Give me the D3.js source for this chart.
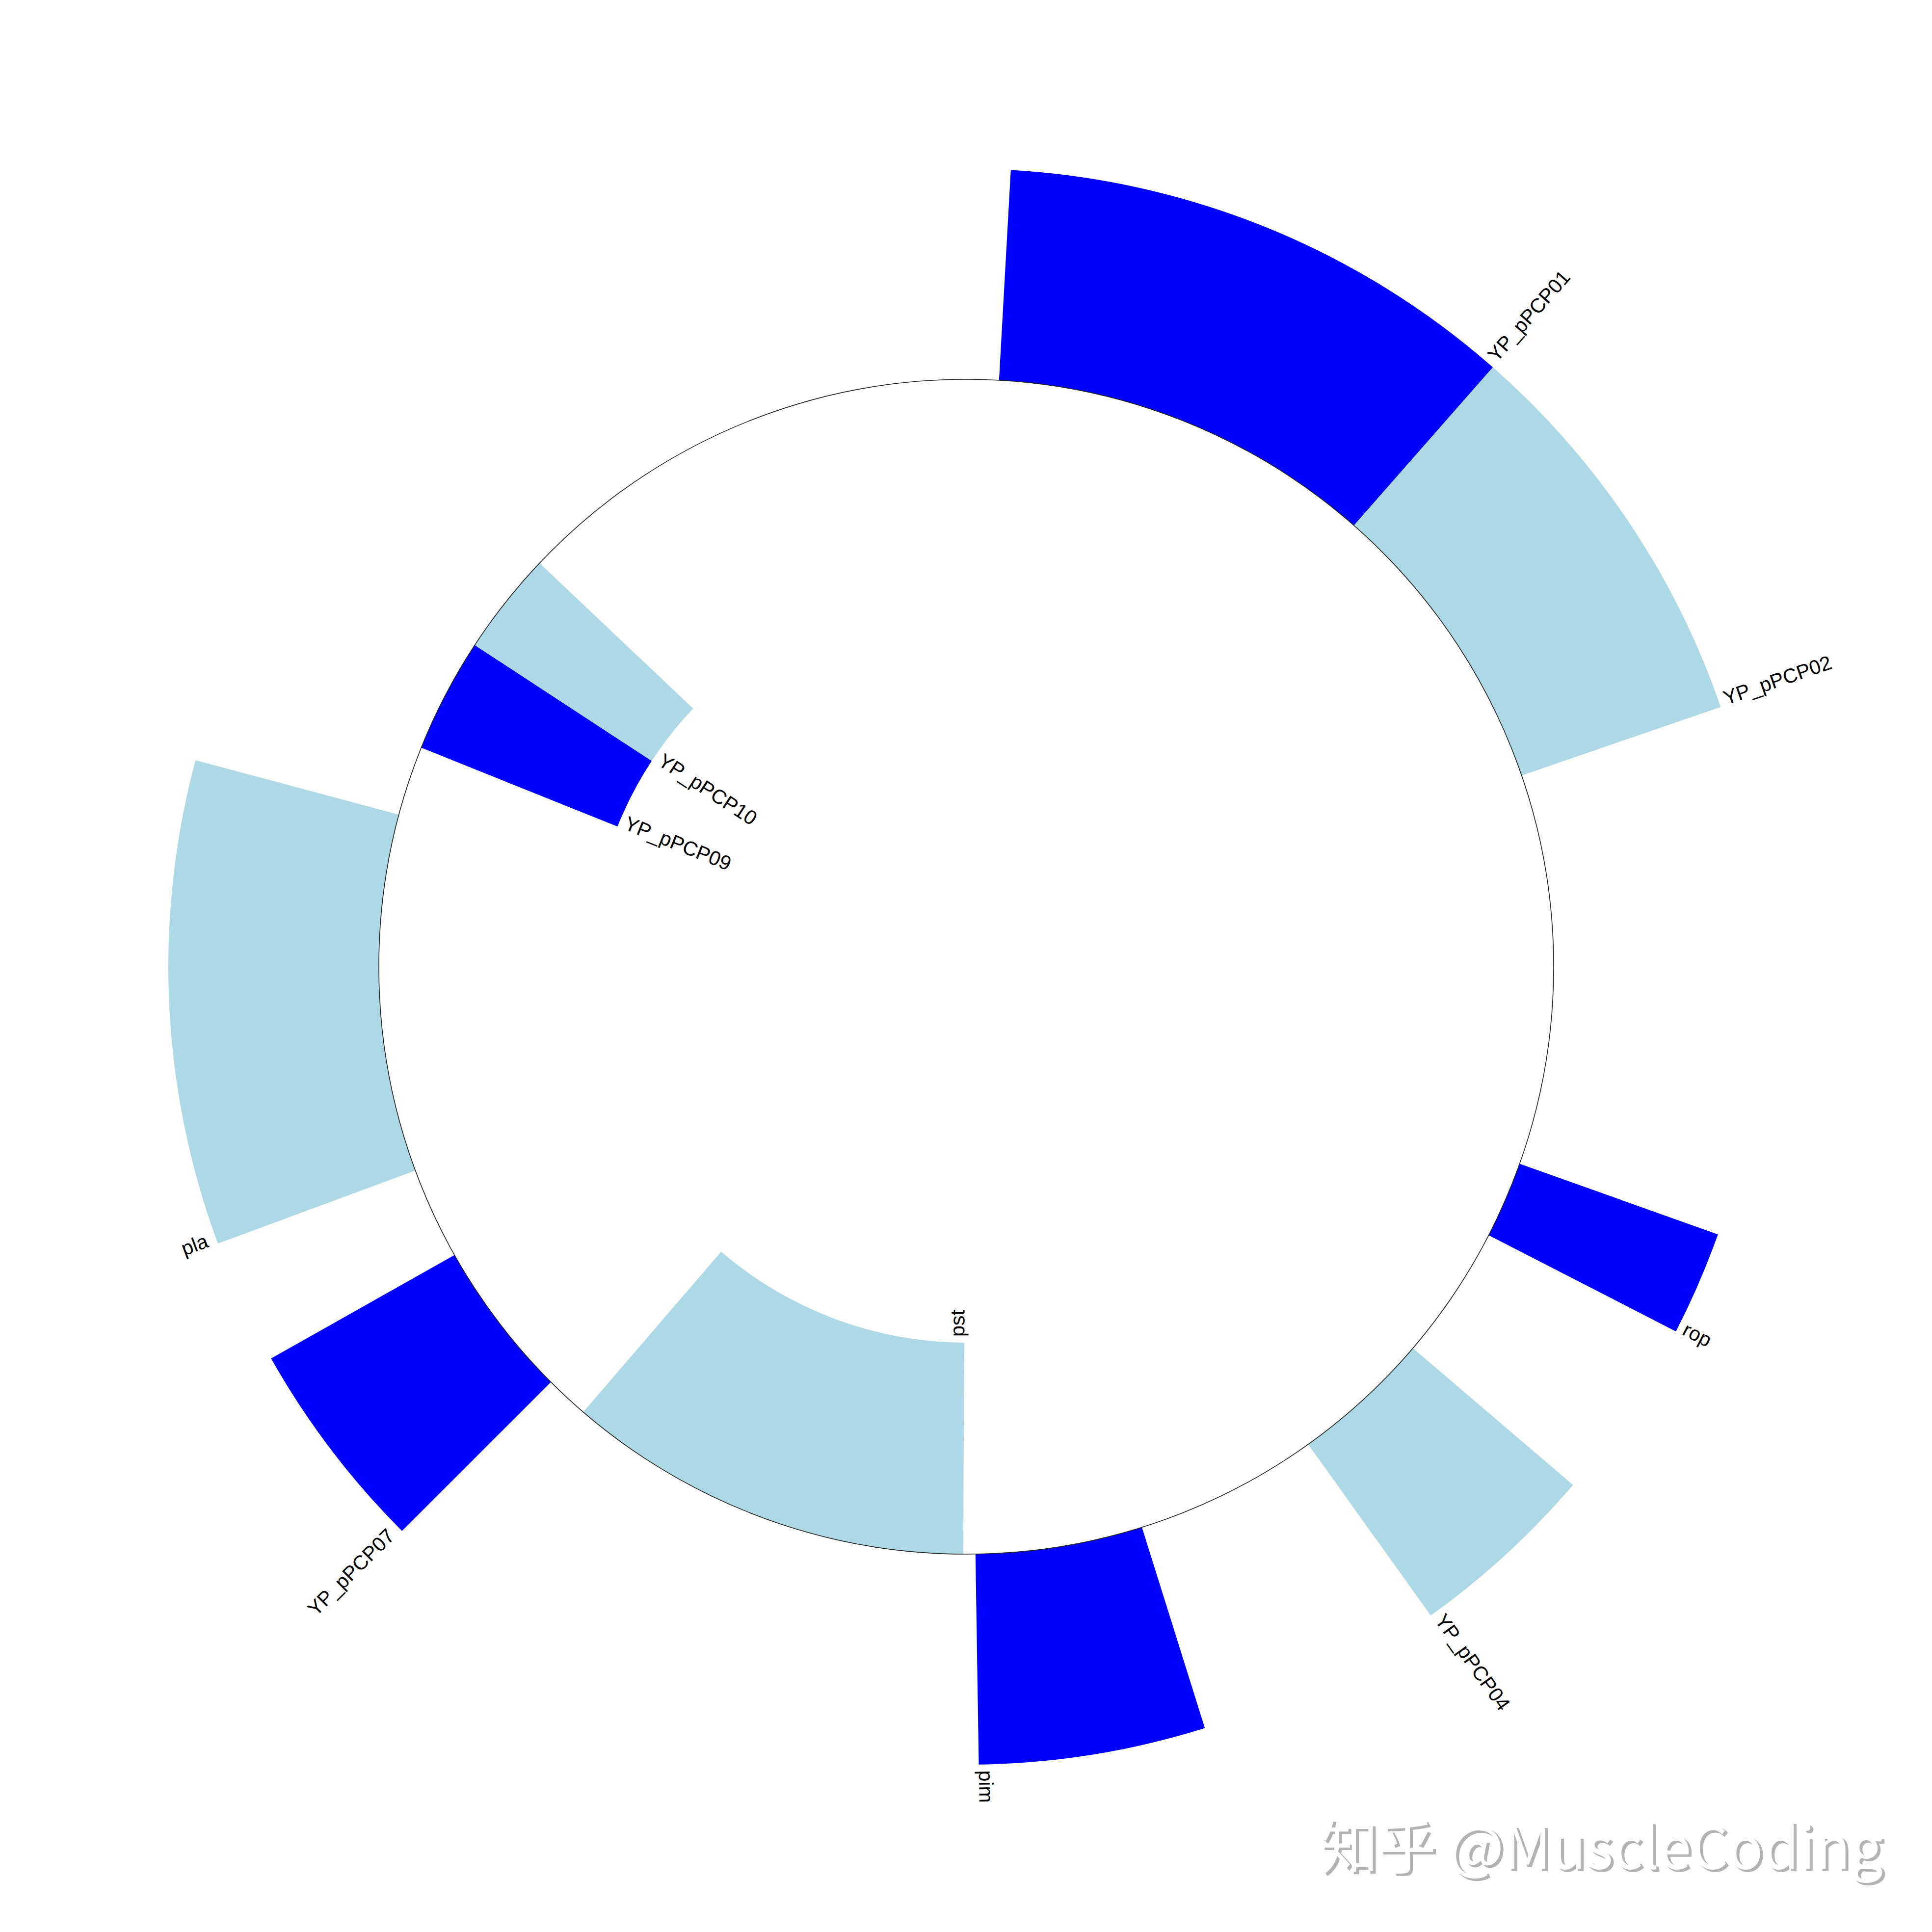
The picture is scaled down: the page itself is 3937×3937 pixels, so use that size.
<!DOCTYPE html>
<html>
<head>
<meta charset="utf-8">
<script src="https://cdn.jsdelivr.net/npm/d3@7"></script>
<style>
    html, body { margin: 0; padding: 0; background: #fff; }
    svg { display: block; }
</style>
</head>
<body>
<svg id="chart"></svg>
<script>
// genes on the plasmid, in track order
const genes = ['YP_pPCP01', 'YP_pPCP02', 'rop', 'YP_pPCP04', 'pim', 'pst', 'YP_pPCP07', 'pla', 'YP_pPCP09', 'YP_pPCP10'];
// gene start / end, in degrees clockwise from the top
const geneStart = [3.2, 41.3, 109.6, 130.5, 162.6, 180.3, 225.0, 249.7, 291.9, 303.2];
const geneEnd = [41.3, 71.0, 117.2, 144.4, 179.1, 220.7, 240.6, 285.0, 303.2, 313.4];
// strand: +1 drawn outside the ring, -1 drawn inside
const geneStrand = [1, 1, 1, 1, 1, -1, 1, 1, -1, -1];

const width = 3937;
const height = 3937;
const cx = 1969;
const cy = 1970;

const svg = d3.select('#chart')
        .attr('width', width)
        .attr('height', height);

const chart = svg.append('g')
        .attr('transform', `translate(${cx}, ${cy})`);

const angle = d3.scaleLinear()
    .domain([0, 360])
    .range([0, 2 * Math.PI]);

const radius = d3.scaleLinear()
    .domain([-1, 0, 1])
    .range([766, 1197, 1626]);

const color = d3.scaleOrdinal()
    .domain([0, 1])
    .range(['#0000ff', '#add8e6']);

const data = genes.map((name, i) => ({
    name,
    start: geneStart[i],
    end: geneEnd[i],
    strand: geneStrand[i],
    index: i
}));

const arc = d3.arc()
    .startAngle(d => angle(d.start))
    .endAngle(d => angle(d.end))
    .innerRadius(d => d.strand > 0 ? radius(0) : radius(d.strand))
    .outerRadius(d => d.strand > 0 ? radius(d.strand) : radius(0));

chart.selectAll('path.gene')
    .data(data)
    .enter()
    .append('path')
        .attr('class', 'gene')
        .attr('d', arc)
        .style('fill', d => color(d.index % 2));

// backbone ring
chart.append('circle')
    .attr('r', radius(0))
    .style('fill', 'none')
    .style('stroke', '#222')
    .style('stroke-width', 1.6);

// labels: radial, sitting at the bar edge nearest the bottom
const labelPos = d => {
    const right = (d.start + d.end) / 2 < 180;
    const a = right ? d.end : d.start;
    const outward = d.strand > 0;
    const anchorStart = right === outward;
    const gap = anchorStart ? 12 : 18;
    const r = outward ? radius(d.strand) + gap : radius(d.strand) - gap;
    const rad = angle(a);
    return {
        x: r * Math.sin(rad),
        y: -r * Math.cos(rad),
        rot: right ? a - 90 : a + 90,
        anchor: anchorStart ? 'start' : 'end'
    };
};

chart.selectAll('text.label')
    .data(data)
    .enter()
    .append('text')
        .attr('class', 'label')
        .attr('transform', d => {
            const p = labelPos(d);
            return `translate(${p.x}, ${p.y}) rotate(${p.rot})`;
        })
        .attr('text-anchor', d => labelPos(d).anchor)
        .style('font-family', '"Liberation Sans", Arial, Helvetica, sans-serif')
        .style('font-size', '41px')
        .style('fill', '#000')
        .text(d => d.name);

// watermark
const mark = svg.append('g')
        .style('font-family', '"Noto Sans CJK SC", "Noto Sans", sans-serif')
        .style('font-size', '118px')
        .attr('text-anchor', 'end');

mark.append('text')
    .attr('x', 3842)
    .attr('y', 3812)
    .style('fill', '#b3b3b3')
    .style('stroke', '#b3b3b3')
    .style('stroke-width', 2)
    .text('知乎 @MuscleCoding');

mark.append('text')
    .attr('x', 3837)
    .attr('y', 3808)
    .style('fill', '#ffffff')
    .text('知乎 @MuscleCoding');
</script>
</body>
</html>
